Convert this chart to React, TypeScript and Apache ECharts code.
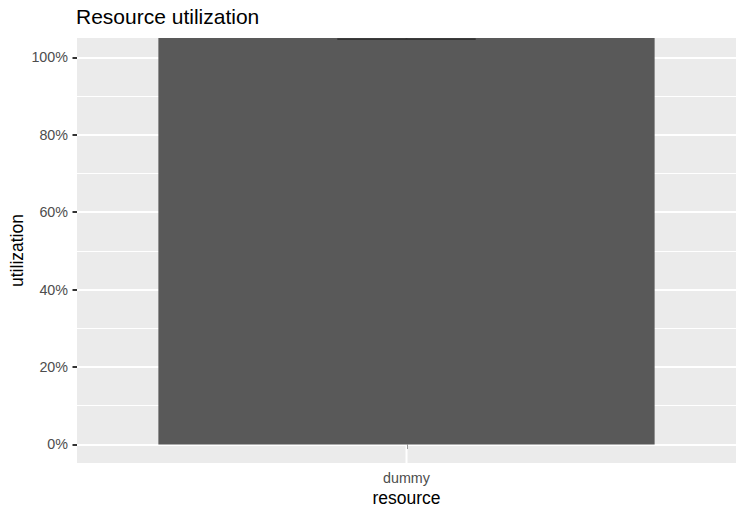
import React, { useEffect, useRef } from "react";
import * as echarts from "echarts";

const categories = ["dummy"];
const utilization = [1.17];
const errLow = [1.047];
const errHigh = [1.3];
const majorTicks = [0, 0.2, 0.4, 0.6, 0.8, 1.0];
const minorTicks = [0.1, 0.3, 0.5, 0.7, 0.9];
const yMin = -0.048;
const yMax = 1.05;

const FONT = '"Liberation Sans", Arial, Helvetica, sans-serif';

export default function App() {
  const ref = useRef<HTMLDivElement>(null);
  useEffect(() => {
    if (!ref.current) return;
    const chart = echarts.init(ref.current, undefined, { renderer: "svg" });
    const option: any = {
      animation: false,
      backgroundColor: "#ffffff",
      textStyle: { fontFamily: FONT },
      title: {
        text: "Resource utilization",
        left: 76,
        top: 6,
        padding: 0,
        textStyle: { fontFamily: FONT, fontSize: 21, fontWeight: "normal", color: "#000000" },
      },
      grid: {
        left: 77,
        top: 38,
        width: 659,
        height: 425,
        show: true,
        backgroundColor: "#EBEBEB",
        borderWidth: 0,
        containLabel: false,
        outerBoundsMode: "none",
      },
      xAxis: {
        type: "category",
        data: categories,
        axisLine: { show: false },
        axisTick: { show: true, alignWithLabel: true, length: 4.5, lineStyle: { color: "#333333", width: 2 } },
        axisLabel: { color: "#4D4D4D", fontSize: 14.3, margin: 8, fontFamily: FONT },
        splitLine: { show: false },
        name: "resource",
        nameLocation: "middle",
        nameGap: 26,
        nameMoveOverlap: false,
        nameTextStyle: { color: "#000000", fontSize: 17.5, fontFamily: FONT },
      },
      yAxis: [
        {
          type: "value",
          min: yMin,
          max: yMax,
          position: "left",
          axisLine: { show: false },
          axisTick: { show: true, length: 4.5, customValues: majorTicks, lineStyle: { color: "#333333", width: 2 } },
          axisLabel: {
            customValues: majorTicks,
            color: "#4D4D4D",
            fontSize: 14.3,
            margin: 9,
            fontFamily: FONT,
            formatter: (v: number) => Math.round(v * 100) + "%",
          },
          splitLine: { show: true, lineStyle: { color: "#ffffff", width: 2 } },
          name: "utilization",
          nameLocation: "middle",
          nameRotate: 90,
          nameGap: 51,
          nameMoveOverlap: false,
          nameTextStyle: { color: "#000000", fontSize: 17.5, fontFamily: FONT },
        },
        {
          type: "value",
          min: yMin,
          max: yMax,
          position: "left",
          axisLine: { show: false },
          axisTick: { show: false, customValues: minorTicks },
          axisLabel: { show: false, customValues: minorTicks },
          splitLine: { show: true, lineStyle: { color: "#ffffff", width: 1.1 } },
        },
      ],
      series: [
        {
          type: "custom",
          name: "xgrid",
          z: 1,
          silent: true,
          data: categories.map((_, i) => [i]),
          renderItem: (params: any, api: any) => {
            const cs = params.coordSys;
            const x = api.coord([api.value(0), 0])[0];
            return {
              type: "line",
              shape: { x1: x, y1: cs.y, x2: x, y2: cs.y + cs.height },
              style: { stroke: "#ffffff", lineWidth: 2 },
            };
          },
        },
        {
          type: "bar",
          z: 2,
          data: utilization,
          barWidth: "75.3%",
          itemStyle: { color: "#595959" },
          clip: true,
        },
        {
          type: "custom",
          name: "errorbar",
          z: 3,
          silent: true,
          clip: true,
          data: categories.map((_, i) => [i, errLow[i], errHigh[i]]),
          renderItem: (params: any, api: any) => {
            const lo = api.coord([api.value(0), api.value(1)]);
            const hi = api.coord([api.value(0), api.value(2)]);
            const band = api.size([1, 0])[0];
            const half = (band * 0.21) / 2;
            return {
              type: "group",
              children: [
                { type: "line", shape: { x1: lo[0] - half, y1: lo[1], x2: lo[0] + half, y2: lo[1] }, style: { stroke: "#333333", lineWidth: 1.8 } },
                { type: "line", shape: { x1: hi[0] - half, y1: hi[1], x2: hi[0] + half, y2: hi[1] }, style: { stroke: "#333333", lineWidth: 1.8 } },
                { type: "line", shape: { x1: lo[0], y1: lo[1], x2: hi[0], y2: hi[1] }, style: { stroke: "#333333", lineWidth: 1.8 } },
              ],
            };
          },
        },
      ],
    };
    chart.setOption(option);
    return () => chart.dispose();
  }, []);
  return <div ref={ref} style={{ position: "absolute", left: 0, top: 0, width: 745, height: 518 }} />;
}
